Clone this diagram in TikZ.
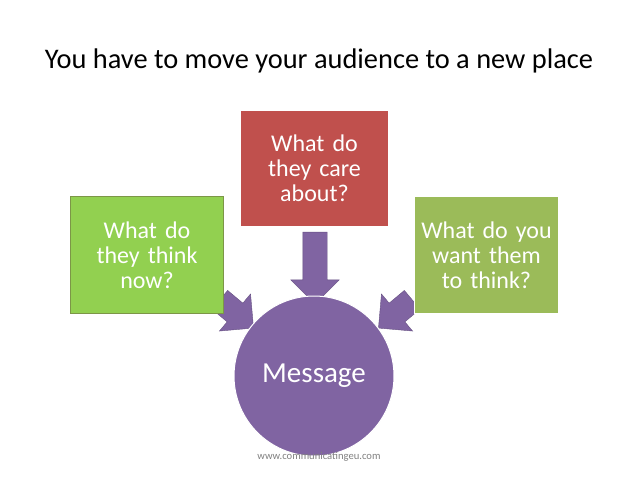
\documentclass[tikz,border=0pt]{standalone}
\usepackage{fontspec}
\setmainfont{Carlito}
\usetikzlibrary{shapes.arrows,calc}
\definecolor{lg}{HTML}{92D050}
\definecolor{rd}{HTML}{C0504D}
\definecolor{og}{HTML}{9BBB59}
\definecolor{pu}{HTML}{8064A2}
\begin{document}
\begin{tikzpicture}[x=1pt,y=-1pt,
 box/.style={draw=white,line width=1pt,minimum height=117pt,text width=146pt,inner xsep=0pt,align=center,font=\fontsize{24}{25}\selectfont,text=white,anchor=north west},
 barrow/.style={single arrow,fill=pu,draw=pu!80!black,minimum height=#1,single arrow head extend=12pt,inner xsep=0pt,inner ysep=12pt,single arrow tip angle=90}]
\useasboundingbox (0,0) rectangle (638,479);
\node (title) at (319,61) {\fontsize{28.4}{32}\selectfont You have to move your audience to a new place};
\node[barrow=72pt,rotate=-90] (a2) at (315,262) {};
\node[barrow=44pt,rotate=-40] (a1) at (232,310) {};
\node[barrow=44pt,rotate=-140] (a3) at (400,310) {};
\node[circle,fill=pu,draw=white,line width=1pt,minimum size=160pt,text=white,font=\fontsize{29}{33}\selectfont] (msg) at (314,376) {Message};
\node[box,fill=lg,draw=og!80!black,minimum width=153pt] (l) at (70,196) {What do\\they think\\now?};
\node[box,fill=rd,minimum width=148pt,minimum height=116pt] (c) at (240,110) {What do\\they care\\about?};
\node[box,fill=og,minimum width=144pt,text width=144pt] (r) at (414,196) {What do you\\want them\\to think?};
\node[font=\fontsize{10.6}{12}\selectfont,text=gray] (foot) at (319,457) {www.communicatingeu.com};
\end{tikzpicture}
\end{document}
